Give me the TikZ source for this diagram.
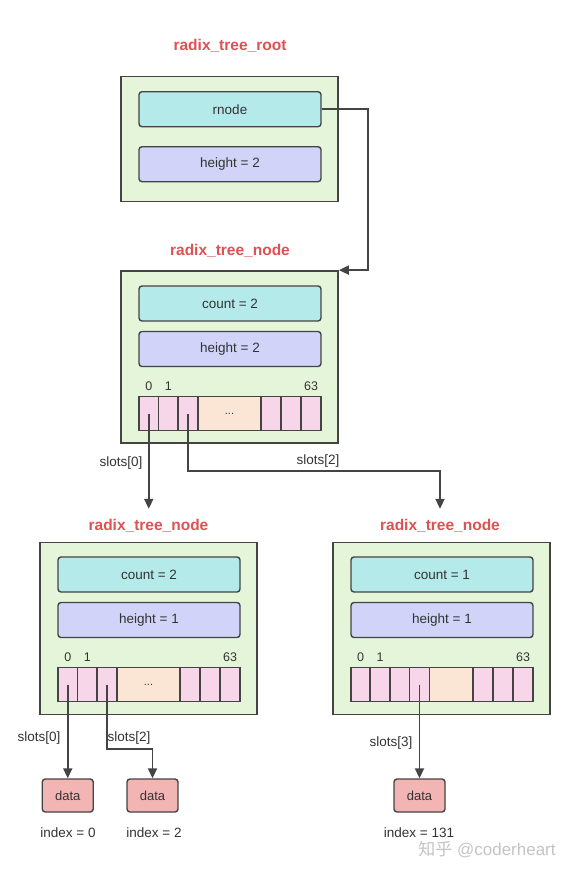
\documentclass[tikz,border=0pt]{standalone}
\usepackage{fontspec}
\setmainfont{Liberation Sans}
\newfontfamily\cjkfont{Noto Sans CJK SC}
\usetikzlibrary{arrows.meta,calc}
\definecolor{bd}{HTML}{444444}
\definecolor{txt}{HTML}{333333}
\definecolor{ttl}{HTML}{DD5252}
\definecolor{grn}{HTML}{E5F5D9}
\definecolor{cyn}{HTML}{B5EAEA}
\definecolor{lav}{HTML}{D1D4F8}
\definecolor{pnk}{HTML}{F7D6EA}
\definecolor{pch}{HTML}{FBE6D5}
\definecolor{dat}{HTML}{F3B5B3}
\definecolor{wm}{HTML}{C4C4C4}
\begin{document}
\begin{tikzpicture}[x=1pt,y=-1pt,
  outer/.style={draw=bd,fill=grn,line width=1.8pt,minimum width=217pt,inner sep=0pt},
  field/.style={draw=bd,line width=1.4pt,rounded corners=3pt,minimum width=182pt,minimum height=35pt,inner sep=0pt,text=txt,font=\fontsize{13.5}{16}\selectfont},
  cell/.style={draw=bd,fill=pnk,line width=1.4pt,minimum height=33.5pt,inner sep=0pt},
  gap/.style={cell,fill=pch,text=txt,font=\fontsize{11}{13}\selectfont},
  idx/.style={text=txt,inner sep=0pt,font=\fontsize{12.5}{15}\selectfont},
  lbl/.style={text=txt,inner sep=0pt,font=\fontsize{13.5}{16}\selectfont},
  ttlnode/.style={text=ttl,inner sep=0pt,minimum height=34pt,font=\fontsize{15.5}{18}\selectfont\bfseries},
  datab/.style={draw=bd,fill=dat,line width=1.4pt,rounded corners=3pt,minimum width=51pt,minimum height=33pt,inner sep=0pt,text=txt,font=\fontsize{13}{15}\selectfont},
  conn/.style={draw=bd,line width=1.9pt},
  arr/.style={conn,-{Triangle[length=10pt,width=9pt]}}
]
\useasboundingbox (0,0) rectangle (575,876);
\fill[white] (0,0) rectangle (575,876);

% ---------- root ----------
\node[ttlnode] (Rt) at (230,46) {radix\_tree\_root};
\node[outer,minimum height=125pt] (R) at (229.5,139) {};
\node[field,fill=cyn] (rnode) at (230,109.2) {rnode};
\node[field,fill=lav] (Rh) at (230,164.2) {height = 2};

% ---------- top node ----------
\node[ttlnode] (Tt) at (230,251) {radix\_tree\_node};
\node[outer,minimum height=172pt] (T) at (229.5,357) {};
\node[field,fill=cyn] (Tcnt) at (230,303.5) {count = 2};
\node[field,fill=lav] (Th) at (230,349) {height = 2};
\node[idx] (Tl0) at (148.75,386.5) {0};
\node[idx] (Tl1) at (168.25,386.5) {1};
\node[idx] (Tl63) at (311,386.5) {63};
\node[cell,minimum width=19.5pt] (Tc1) at (148.75,413.5) {};
\node[cell,minimum width=19.5pt] (Tc2) at (168.25,413.5) {};
\node[cell,minimum width=20pt] (Tc3) at (188,413.5) {};
\node[gap,minimum width=63pt] (Tg) at (229.5,413.5) {...};
\node[cell,minimum width=20pt] (Tc5) at (271,413.5) {};
\node[cell,minimum width=20pt] (Tc6) at (291,413.5) {};
\node[cell,minimum width=20pt] (Tc7) at (311,413.5) {};

% ---------- bottom-left node ----------
\node[ttlnode] (BLt) at (148.5,526) {radix\_tree\_node};
\node[outer,minimum height=172pt] (BL) at (148.5,628.5) {};
\node[field,fill=cyn] (BLcnt) at (149,574.5) {count = 2};
\node[field,fill=lav] (BLh) at (149,620) {height = 1};
\node[idx] (BLl0) at (67.75,657.5) {0};
\node[idx] (BLl1) at (87.25,657.5) {1};
\node[idx] (BLl63) at (230,657.5) {63};
\node[cell,minimum width=19.5pt] (BLc1) at (67.75,684.5) {};
\node[cell,minimum width=19.5pt] (BLc2) at (87.25,684.5) {};
\node[cell,minimum width=20pt] (BLc3) at (107,684.5) {};
\node[gap,minimum width=63pt] (BLg) at (148.5,684.5) {...};
\node[cell,minimum width=20pt] (BLc5) at (190,684.5) {};
\node[cell,minimum width=20pt] (BLc6) at (210,684.5) {};
\node[cell,minimum width=20pt] (BLc7) at (230,684.5) {};

% ---------- bottom-right node ----------
\node[ttlnode] (BRt) at (440,526) {radix\_tree\_node};
\node[outer,minimum height=172pt] (BR) at (441.5,628.5) {};
\node[field,fill=cyn] (BRcnt) at (442,574.5) {count = 1};
\node[field,fill=lav] (BRh) at (442,620) {height = 1};
\node[idx] (BRl0) at (360.5,657.5) {0};
\node[idx] (BRl1) at (380,657.5) {1};
\node[idx] (BRl63) at (523,657.5) {63};
\node[cell,minimum width=19pt] (BRc1) at (360.5,684.5) {};
\node[cell,minimum width=20pt] (BRc2) at (380,684.5) {};
\node[cell,minimum width=19.5pt] (BRc3) at (399.75,684.5) {};
\node[cell,minimum width=20pt] (BRc4) at (419.5,684.5) {};
\node[gap,minimum width=43.5pt] (BRg) at (451.25,684.5) {};
\node[cell,minimum width=20pt] (BRc6) at (483,684.5) {};
\node[cell,minimum width=20pt] (BRc7) at (503,684.5) {};
\node[cell,minimum width=20pt] (BRc8) at (523,684.5) {};

% ---------- data ----------
\node[datab] (D1) at (67.75,795.5) {data};
\node[datab] (D2) at (152.5,795.5) {data};
\node[datab] (D3) at (419.5,795.5) {data};
\node[lbl] (I1) at (68,833) {index = 0};
\node[lbl] (I2) at (154,833) {index = 2};
\node[lbl] (I3) at (419,833) {index = 131};

% ---------- connectors ----------
\draw[arr] (rnode.east) -- ++(46,0) |- (T.north east);
\draw[arr] (Tc1.center) -- (Tc1.center |- BLt.north);
\draw[arr] (Tc3.center) -- ++(0,57.5) -| (BRt.north);
\draw[arr] (BLc1.center) -- (BLc1.center |- D1.north);
\draw[arr] (BLc3.center) -- ++(0,64.5) -| (D2.north);
\draw[arr] (BRc4.center) -- (BRc4.center |- D3.north);

% ---------- connector labels ----------
\node[lbl] (s1) at (121,463) {slots[0]};
\node[lbl] (s2) at (318,461) {slots[2]};
\node[lbl] (s3) at (39,738) {slots[0]};
\node[lbl,anchor=west] (s4) at (107.5,738) {slots[2]};
\node[lbl] (s5) at (391,743) {slots[3]};

% ---------- watermark ----------
\node[text=wm,inner sep=0pt,font=\fontsize{17}{20}\selectfont] (wmk) at (487,850) {{\cjkfont 知乎} @coderheart};
\end{tikzpicture}
\end{document}
